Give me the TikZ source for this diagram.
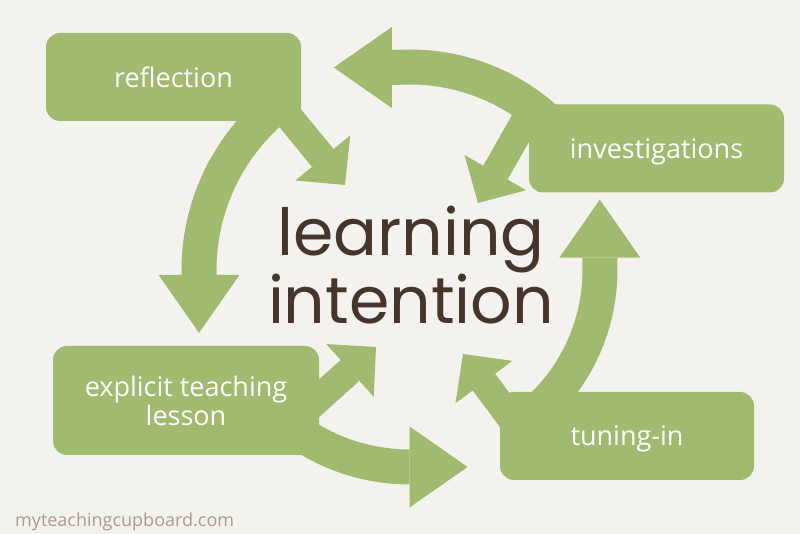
\documentclass[tikz,border=0pt]{standalone}
\usepackage{fontspec}
\setmainfont{Open Sans}
\newfontfamily\titlefont{Poppins}
\usepackage{tikz}
\usetikzlibrary{calc}
\usetikzlibrary{arrows.meta}
\definecolor{bgcream}{HTML}{F3F2EE}
\definecolor{leafgreen}{HTML}{A0BB6F}
\definecolor{barkbrown}{HTML}{45352D}
\definecolor{markbrown}{HTML}{AE998A}
\tikzset{
  stage/.style={shape=rectangle, fill=leafgreen, rounded corners=14pt, inner sep=0pt,
    minimum width=255pt, minimum height=88pt, text=white, align=center, text depth=0pt,
    font=\fontsize{27}{29}\selectfont},
  looparrow/.style={draw=leafgreen, line width=35pt,
    -{Triangle[length=58pt,width=81pt,line width=0pt]}},
  stubarrow/.style={draw=leafgreen, line width=28pt,
    -{Triangle[length=35pt,width=71pt,line width=0pt]}},
}
\newcommand{\stub}[2]{\draw[stubarrow] #1 -- (#2);}

\begin{document}
\begin{tikzpicture}[x=1pt,y=1pt]
% page and background
\useasboundingbox (0,0) rectangle (800,534);
\fill[bgcream] (0,0) rectangle (800,534);
\coordinate (hub) at (410,264);
% big loop arrows round the hub
\draw[looparrow] ($(hub)+(130:211)$) arc[start angle=130, end angle=180.5, radius=211pt] -- ++(270:61);
\draw[looparrow] ($(hub)+(46:203)$) arc[start angle=46, end angle=94, radius=203pt] -- ++(180:62);
\draw[looparrow] ($(hub)+(-48:190)$) arc[start angle=-48, end angle=2.5, radius=190pt] -- ++(90:62);
\draw[looparrow] ($(hub)+(236:197)$) arc[start angle=236, end angle=269, radius=197pt] -- ++(0:61);
% stages
\node[stage] (refl) at (173.5,457) {reflection};
\node[stage] (invest) at (656.5,385.5) {investigations};
\node[stage, minimum width=266pt, minimum height=109pt] (explicit) at (186,133.5) {explicit teaching\\lesson};
\node[stage, minimum width=254pt] (tuning) at (627,98) {tuning-in};
% short arrows into the centre
\coordinate (tipRefl) at (345,349);
\coordinate (tipInvest) at (478,331);
\coordinate (tipExplicit) at (376,187);
\coordinate (tipTuning) at (463,180);
\stub{($(refl.south east)+(-22.5,17)$)}{tipRefl}
\stub{($(invest.north west)+(3.5,-3.5)$)}{tipInvest}
\stub{($(explicit.north east)+(-14,-65)$)}{tipExplicit}
\stub{($(tuning.north west)+(26,-46.5)$)}{tipTuning}
% centre text
\node[text=barkbrown, align=center, font=\titlefont\fontsize{65}{66}\selectfont] (goal) at (411,269) {learning\\intention};
% site mark
\node[anchor=base west, inner sep=0pt, text=markbrown, font=\fontsize{18}{20}\selectfont] (site) at (15,7) {myteachingcupboard.com};
\end{tikzpicture}
\end{document}
